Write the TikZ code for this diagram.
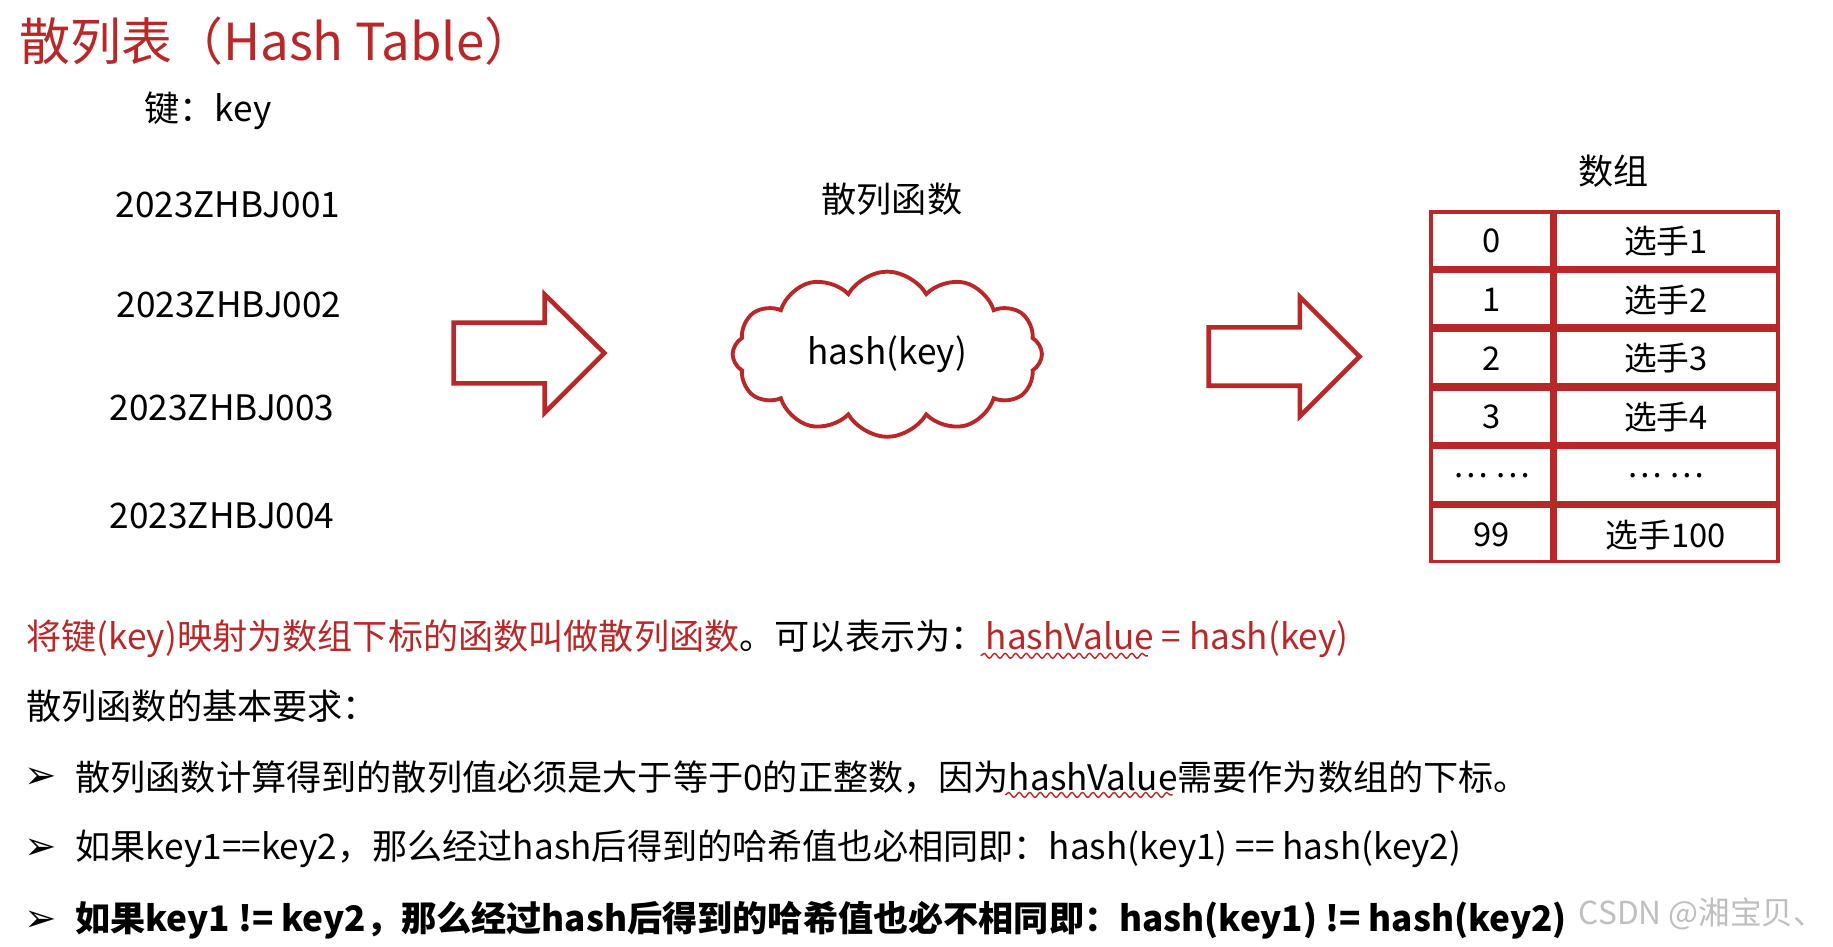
\documentclass[tikz,border=0pt]{standalone}
\usepackage{fontspec}
\setmainfont{Noto Sans CJK SC}
\newfontfamily\dv{DejaVu Sans}
\usetikzlibrary{shapes.symbols,decorations.pathmorphing}
\definecolor{rd}{RGB}{185,40,40}
\begin{document}
\begin{tikzpicture}[x=0.01169cm,y=-0.01169cm,
  every node/.style={inner sep=0pt},
  body/.style={font=\fontsize{10}{12}\selectfont},
  cell/.style={draw=rd,line width=1.1pt},
  blk/.style={draw=rd,line width=1.3pt,line join=miter},
  bul/.style={font=\dv\fontsize{11}{12}\selectfont}]
\useasboundingbox (0,0) rectangle (1568,810);
\node[anchor=west,text=rd,font=\fontsize{14.5}{16}\selectfont] (title) at (16,35) {散列表（Hash Table）};
\node[anchor=west,body] (jian) at (123,95) {键：key};
\node[body] (k1) at (195,175) {2023ZHBJ001};
\node[body] (k2) at (196,261) {2023ZHBJ002};
\node[body] (k3) at (190,349) {2023ZHBJ003};
\node[body] (k4) at (190,441) {2023ZHBJ004};
\draw[blk] (388,276) -- (466,276) -- (466,252) -- (517,302) -- (466,353) -- (466,328) -- (388,328) -- cycle;
\node[body] (fn) at (763,170) {散列函数};
\node[cloud,cloud puffs=12,cloud puff arc=120,aspect=1.9,draw=rd,line width=1.1pt,minimum width=88pt,minimum height=47pt,inner sep=0pt,body] (cloud) at (759,303) {hash(key)};
\draw[blk] (1034,280) -- (1112,280) -- (1112,254) -- (1163,305) -- (1112,356) -- (1112,330) -- (1034,330) -- cycle;
\node[body] (arr) at (1380,146) {数组};
\foreach \a/\b [count=\r from 0] in {0/选手1,1/选手2,2/选手3,3/选手4,{… …}/{… …},99/选手100}{
  \pgfmathsetmacro\yt{180+50.3*\r}
  \draw[cell] (1224,\yt+1.5) rectangle (1327.5,\yt+48.8);
  \draw[cell] (1330,\yt+1.5) rectangle (1521,\yt+48.8);
  \node[font=\fontsize{9.3}{10}\selectfont] (a\r) at (1276,\yt+26) {\a};
  \node[font=\fontsize{9.3}{10}\selectfont] (b\r) at (1425,\yt+26) {\b};
}
\node[anchor=west,body] (def) at (22,546) {\textcolor{rd}{将键(key)映射为数组下标的函数叫做散列函数}。可以表示为：\textcolor{rd}{hashValue = hash(key)}};
\draw[rd,line width=0.4pt,decorate,decoration={snake,amplitude=0.7,segment length=3}] (839,561) -- (982,561);
\node[anchor=west,body] (req) at (22,604) {散列函数的基本要求：};
\node[bul] (bl1) at (35,666) {➢};
\node[bul] (bl2) at (35,726) {➢};
\node[bul] (bl3) at (35,788) {➢};
\node[anchor=west,body] (t1) at (64,665) {散列函数计算得到的散列值必须是大于等于0的正整数，因为hashValue需要作为数组的下标。};
\draw[rd,line width=0.4pt,decorate,decoration={snake,amplitude=0.7,segment length=3}] (860,680) -- (1003,680);
\node[anchor=west,body] (t2) at (64,726) {如果key1==key2，那么经过hash后得到的哈希值也必相同即：hash(key1) == hash(key2)};
\node[anchor=west,font=\bfseries\fontsize{10}{12}\selectfont] (t3) at (64,787) {如果key1 != key2，那么经过hash后得到的哈希值也必不相同即：hash(key1) != hash(key2)};
\node[anchor=west,text=black!25,font=\fontsize{9}{11}\selectfont] (wm) at (1350,782) {CSDN @湘宝贝、};
\end{tikzpicture}
\end{document}
